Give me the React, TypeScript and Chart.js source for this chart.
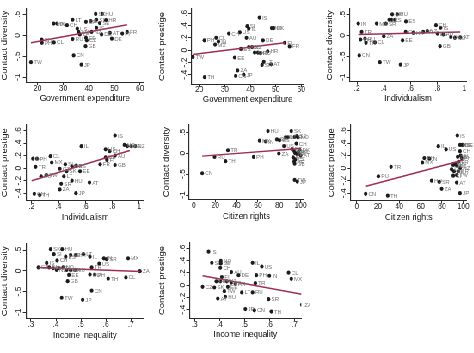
import React, { useEffect, useRef } from "react";
import { Chart, registerables } from "chart.js";
Chart.register(...registerables);

// ---------------- data ----------------
const divTicks = [-1, -0.5, 0, 0.5];
const divTickLabels = ["-1", "-.5", "0", ".5"];
const presTicks = [-0.4, -0.2, 0, 0.2, 0.4, 0.6];
const presTickLabels = ["-.4", "-.2", "0", ".2", ".4", ".6"];
const govTicks = [20, 30, 40, 50, 60];
const govTickLabels = ["20", "30", "40", "50", "60"];
const indTicks = [0.2, 0.4, 0.6, 0.8, 1];
const indTickLabels = [".2", ".4", ".6", ".8", "1"];
const citTicks = [0, 20, 40, 60, 80, 100];
const citTickLabels = ["0", "20", "40", "60", "80", "100"];
const ineqTicks = [0.3, 0.4, 0.5, 0.6, 0.7];
const ineqTickLabels = [".3", ".4", ".5", ".6", ".7"];

// Panel 1: government expenditure vs contact diversity
const p1Labels = ["TW","TH","PH","MX","IN","CL","CH","LT","CN","RU","US","AU","ZA","JP","GB","EE","CZ","SR","IL","SI","SE","HR","IS","NZ","DE","AT","DK","FI","FR","SK","HU"];
const p1X = [17.4,21.6,21.7,26.3,27.6,26.4,31.5,33.7,34.1,33.7,35.5,36.0,36.5,37.1,38.75,38.9,39.2,38.9,40.8,43.0,44.3,46.7,43.0,41.1,45.0,48.3,49.0,53.1,55.0,42.7,45.3];
const p1Y = [-0.64,-0.10,-0.18,0.28,0.28,-0.17,0.24,0.37,-0.48,-0.09,0.16,0.08,0.02,-0.70,-0.26,-0.06,-0.12,0.32,0.34,0.37,0.29,0.36,0.18,0.08,0.02,0.06,-0.08,0.04,0.08,0.51,0.51];
const p1FitX = [17.4, 55.0];
const p1FitY = [-0.18, 0.25];

// Panel 2: government expenditure vs contact prestige
const p2Labels = ["TW","TH","PH","CL","MX","IN","CH","EE","ZA","CN","US","JP","AU","SI","IL","ES","CZ","NZ","SK","HU","IS","RU","DE","SR","LT","HR","AT","NO","DK","FI","FR"];
const p2X = [17.5,22.1,22.0,26.6,26.2,27.5,31.6,33.9,35.0,34.3,35.9,37.4,38.5,38.8,39.4,36.3,39.4,40.7,41.7,43.0,43.6,44.0,45.0,44.6,45.3,46.8,48.1,48.4,49.2,53.5,55.4];
const p2Y = [-0.11,-0.44,0.16,0.20,0.09,0.14,0.27,-0.12,-0.33,-0.42,0.29,-0.40,0.20,0.39,0.35,0.02,0.05,0.05,-0.04,-0.04,0.53,-0.05,0.16,-0.24,-0.19,-0.02,-0.23,0.36,0.36,0.12,0.06];
const p2FitX = [17.5, 53.5];
const p2FitY = [-0.07, 0.12];

// Panel 3: individualism vs contact diversity
const p3Labels = ["IN","CN","PH","TR","RU","TH","CL","MX","TW","ZA","SR","LT","IL","SK","SI","HU","JP","EE","CZ","ES","HR","FR","NZ","CH","DE","IS","GB","AU","DK","NO","AT"];
const p3X = [0.21,0.217,0.227,0.235,0.26,0.267,0.334,0.347,0.371,0.40,0.416,0.44,0.458,0.463,0.483,0.50,0.525,0.54,0.563,0.565,0.62,0.694,0.724,0.789,0.80,0.824,0.819,0.843,0.90,0.93,0.97];
const p3Y = [0.28,-0.48,-0.10,0.08,-0.08,-0.18,-0.17,0.28,-0.64,-0.02,0.28,0.37,0.37,0.50,0.37,0.50,-0.70,-0.12,0.08,0.33,0.06,0.08,0.10,0.24,0.04,0.18,-0.26,0.02,-0.04,-0.06,-0.05];
const p3FitX = [0.21, 0.97];
const p3FitY = [0.02, 0.08];

// Panel 4: individualism vs contact prestige
const p4Labels = ["IN","CN","TR","PH","TH","RU","TW","CL","MX","CZ","ZA","SR","LT","SI","SK","HR","HU","ES","JP","EE","IL","AT","FR","US","DE","FI","CH","AU","GB","IS","NO","DK","SE","NZ"];
const p4X = [0.21,0.22,0.23,0.24,0.26,0.27,0.31,0.34,0.35,0.41,0.41,0.42,0.44,0.45,0.46,0.50,0.50,0.53,0.53,0.56,0.57,0.63,0.71,0.75,0.75,0.76,0.78,0.82,0.82,0.82,0.89,0.91,0.94,0.97];
const p4Y = [0.15,-0.41,0.02,0.15,-0.43,-0.13,-0.11,0.19,0.09,-0.01,-0.34,-0.25,-0.13,0.06,-0.05,0.03,-0.20,0.04,-0.40,-0.05,0.35,-0.23,0.06,0.30,0.17,0.13,0.27,0.20,0.05,0.52,0.37,0.35,0.35,0.35];
const p4FitX = [0.2, 0.93];
const p4FitY = [-0.2, 0.28];

// Panel 5: citizen rights vs contact diversity
const p5Labels = ["CN","RU","TH","TR","PH","MX","IN","HU","SR","ZA","ES","IL","LT","US","SK","SI","SE","NO","CH","DE","AU","NZ","FI","DK","AT","FR","EE","CZ","HR","GB","TW","JP"];
const p5X = [7.8,19.4,29.7,31.9,56,61.6,67.2,69.4,77.8,79.7,80.3,85.9,88.1,84.4,91.3,94.4,96.5,97.5,96,92,94,95,97,99,100,98,93,95,94,94.4,94.4,96.9];
const p5Y = [-0.48,-0.09,-0.19,0.07,-0.09,0.30,0.28,0.53,0.33,-0.01,0.31,0.38,0.38,0.17,0.53,0.39,0.41,0.38,0.23,0.10,0.05,0.0,-0.03,0.08,-0.05,0.02,-0.10,-0.15,-0.20,-0.25,-0.64,-0.68];
const p5FitX = [7.8, 100];
const p5FitY = [-0.07, 0.11];

// Panel 6: citizen rights vs contact prestige
const p6Labels = ["CN","RU","TH","TR","MX","PH","IN","HU","IL","SR","ZA","US","LT","SK","EE","CZ","SI","HR","TW","ES","FR","DE","IS","AT","JP","NZ","CH","AU","FI","NO","DK","SE"];
const p6X = [8.4,20.3,29.1,32.2,61.6,63.4,68.1,70.3,76.6,77.5,79.7,83.8,89,90.6,91.3,93.8,90.6,95.3,93.8,92.5,95.6,94.7,94.4,93.8,96.9,97,96.9,97.5,98.4,96.9,98.8,100];
const p6Y = [-0.41,-0.13,-0.44,0.02,0.09,0.16,0.15,-0.20,0.35,-0.22,-0.33,0.30,-0.02,0.05,-0.05,0.04,-0.12,-0.05,-0.11,0.07,0.10,0.18,0.52,-0.23,-0.40,0.0,0.27,0.20,0.16,0.37,0.37,0.37];
const p6FitX = [8.75, 100];
const p6FitY = [-0.29, 0.13];

// Panel 7: income inequality vs contact diversity
const p7Labels = ["CZ","IS","DK","SK","FI","SI","NZ","CH","AT","TW","HU","NO","EE","ES","GB","DE","SE","FR","AU","HR","JP","LT","IL","RU","TR","CN","PH","US","IN","SR","TH","CL","MX","ZA"];
const p7X = [0.33,0.363,0.373,0.379,0.389,0.392,0.403,0.405,0.413,0.423,0.425,0.429,0.452,0.439,0.447,0.443,0.459,0.459,0.476,0.479,0.507,0.51,0.536,0.536,0.543,0.543,0.555,0.573,0.592,0.603,0.609,0.68,0.689,0.736];
const p7Y = [0.08,0.19,0.08,0.52,0.06,0.40,0.02,0.25,0.06,-0.65,0.52,0.08,-0.10,0.34,-0.25,0.02,0.38,0.01,0.02,0.38,-0.70,0.40,0.34,-0.09,0.08,-0.48,-0.09,0.17,0.30,0.28,-0.19,-0.16,0.30,-0.01];
const p7FitX = [0.33, 0.736];
const p7FitY = [0.08, -0.02];

// Panel 8: income inequality vs contact prestige
const p8Labels = ["CZ","IS","SI","SK","FR","AT","CH","NO","SE","DK","FI","TW","HU","NZ","EE","AU","ES","HR","DE","LT","JP","IL","RU","CN","TR","PH","US","SR","IN","TH","CL","MX","ZA"];
const p8X = [0.332,0.356,0.369,0.379,0.387,0.393,0.403,0.405,0.405,0.403,0.409,0.419,0.423,0.429,0.433,0.447,0.447,0.463,0.476,0.489,0.503,0.532,0.532,0.539,0.543,0.547,0.569,0.596,0.599,0.607,0.676,0.687,0.729];
const p8Y = [-0.03,0.54,0.36,-0.04,0.06,-0.22,0.28,0.39,0.35,0.06,0.13,-0.10,-0.19,0.06,-0.03,0.21,0.04,0.02,0.16,-0.12,-0.39,0.36,-0.12,-0.41,0.03,0.16,0.30,-0.23,0.15,-0.43,0.20,0.10,-0.32];
const p8FitX = [0.332, 0.729];
const p8FitY = [0.15, -0.15];

// ---------------- layout & style ----------------
const FONT = '"Liberation Sans", Arial, Helvetica, sans-serif';
const SX = 0.86; // horizontal squeeze of the whole figure
const TICK_FONT = 8.5;
const TITLE_FONT = 9.5;
const LH_T = TITLE_FONT * 1.2;
const LH_K = TICK_FONT * 1.2;
const TOP_PAD = 8;
const RIGHT_PAD_REF = 8;
const TL_X = 3;
const TL_Y = 3.5;
const AXIS_COLOR = "#2a2a2a";
const POINT_COLOR = "#1c1c1c";
const LINE_COLOR = "#9e2f4e";
const LABEL_COLOR = "#747474";

type Layout = {
  axL: number; axR: number; axT: number; axB: number;
  xMap: number[]; yMap: number[];
  titleX: number; tickX: number; xTickY: number; xTitleY: number;
};

const L1: Layout = { axL: 26, axR: 144, axT: 9, axB: 82, xMap: [20, 37.7, 60, 140], yMap: [0.5, 14.3, -1, 77.3], titleX: 5, tickX: 18, xTickY: 89, xTitleY: 98.5 };
const L2: Layout = { axL: 191, axR: 304, axT: 9, axB: 84, xMap: [20, 199, 60, 301], yMap: [0.6, 13.3, -0.4, 74.7], titleX: 162, tickX: 185, xTickY: 90, xTitleY: 99.5 };
const L3: Layout = { axL: 349.3, axR: 466.7, axT: 9, axB: 81.7, xMap: [0.2, 357, 1, 464.3], yMap: [0.5, 14.3, -1, 77.3], titleX: 330, tickX: 343, xTickY: 89, xTitleY: 98.5 };
const L4: Layout = { axL: 26.7, axR: 144, axT: 124.5, axB: 200, xMap: [0.2, 31.7, 1, 139.3], yMap: [0.6, 130, -0.4, 192.7], titleX: 5, tickX: 18.3, xTickY: 206, xTitleY: 216.5 };
const L5: Layout = { axL: 189.3, axR: 304.3, axT: 125, axB: 199.3, xMap: [0, 194.3, 100, 301], yMap: [0.5, 132.3, -1, 195], titleX: 167, tickX: 183.3, xTickY: 206, xTitleY: 216.5 };
const L6: Layout = { axL: 350.7, axR: 466.7, axT: 124.5, axB: 200, xMap: [0, 356.7, 100, 463.3], yMap: [0.6, 130, -0.4, 192.7], titleX: 331.7, tickX: 343.3, xTickY: 206, xTitleY: 216.5 };
const L7: Layout = { axL: 26, axR: 144, axT: 244, axB: 318.3, xMap: [0.3, 31, 0.7, 131], yMap: [0.5, 250, -1, 312.3], titleX: 5, tickX: 18.3, xTickY: 324.5, xTitleY: 335 };
const L8: Layout = { axL: 189, axR: 301, axT: 243.3, axB: 318.3, xMap: [0.3, 194.3, 0.7, 294.3], yMap: [0.6, 248.3, -0.4, 310], titleX: 162, tickX: 184.3, xTickY: 324.5, xTitleY: 335 };

function geom(L: Layout) {
  const cl = L.titleX - (LH_T / 2) * SX;
  const ct = L.axT - TOP_PAD;
  const w = Math.round((L.axR + RIGHT_PAD_REF - cl) / SX);
  const h = Math.round(L.xTitleY + LH_T / 2 - ct);
  const yW = (L.axL - cl) / SX;
  const padR = w - (L.axR - cl) / SX;
  const xH = h - (L.axB - ct);
  const kx = (L.xMap[2] - L.xMap[0]) / (L.xMap[3] - L.xMap[1]);
  const xMin = L.xMap[0] + (L.axL - L.xMap[1]) * kx;
  const xMax = L.xMap[0] + (L.axR - L.xMap[1]) * kx;
  const ky = (L.yMap[2] - L.yMap[0]) / (L.yMap[3] - L.yMap[1]);
  const yMin = L.yMap[0] + (L.axB - L.yMap[1]) * ky;
  const yMax = L.yMap[0] + (L.axT - L.yMap[1]) * ky;
  const xPad = L.xTickY - L.axB - TL_X - LH_K / 2;
  const yPad = Math.max(-1, (L.axL - L.tickX) / SX - TL_Y - 5);
  return { left: cl / SX, top: ct, w, h, yW, padR, xH, xMin, xMax, yMin, yMax, xPad, yPad };
}

type PanelProps = {
  layout: Layout;
  xs: number[]; ys: number[]; labels: string[];
  fitX: number[]; fitY: number[];
  xTicks: number[]; xTickLabels: string[];
  yTicks: number[]; yTickLabels: string[];
  xTitle: string; yTitle: string;
};

function Panel(p: PanelProps) {
  const ref = useRef<HTMLCanvasElement>(null);
  const g = geom(p.layout);
  useEffect(() => {
    if (!ref.current) return;
    const labels = p.labels;
    const labelPlugin = {
      id: "countryLabels",
      afterDatasetsDraw(chart: any) {
        const meta = chart.getDatasetMeta(0);
        const ctx = chart.ctx;
        ctx.save();
        ctx.font = `6.2px ${FONT}`;
        ctx.fillStyle = LABEL_COLOR;
        ctx.textBaseline = "middle";
        ctx.textAlign = "left";
        meta.data.forEach((pt: any, i: number) => {
          ctx.fillText(labels[i] ?? "", pt.x + 3.2, pt.y + 0.3);
        });
        ctx.restore();
      },
    };
    const gridCommon = {
      display: true,
      drawOnChartArea: false,
      drawTicks: true,
      color: AXIS_COLOR,
      lineWidth: 1,
    };
    const chart = new Chart(ref.current, {
      type: "scatter",
      data: {
        datasets: [
          {
            data: p.xs.map((x, i) => ({ x, y: p.ys[i] })),
            pointRadius: 2.1,
            pointBackgroundColor: POINT_COLOR,
            pointBorderWidth: 0,
            order: 1,
          },
          {
            data: p.fitX.map((x, i) => ({ x, y: p.fitY[i] })),
            showLine: true,
            borderColor: LINE_COLOR,
            borderWidth: 1.5,
            pointRadius: 0,
            order: 0,
          },
        ],
      },
      options: {
        responsive: false,
        animation: false,
        devicePixelRatio: 1,
        events: [],
        layout: { padding: { left: 0, top: TOP_PAD, right: g.padR, bottom: 0 } },
        plugins: { legend: { display: false }, tooltip: { enabled: false } },
        scales: {
          x: {
            type: "linear",
            min: g.xMin,
            max: g.xMax,
            afterBuildTicks: (s: any) => {
              s.ticks = p.xTicks.map((v) => ({ value: v }));
            },
            afterFit: (s: any) => {
              s.height = g.xH;
            },
            ticks: {
              autoSkip: false,
              maxRotation: 0,
              minRotation: 0,
              padding: g.xPad,
              color: "#1a1a1a",
              font: { family: FONT, size: TICK_FONT },
              callback: (_v: any, i: number) => p.xTickLabels[i],
            },
            grid: { ...gridCommon, tickLength: TL_X },
            border: { display: true, color: AXIS_COLOR, width: 1 },
            title: {
              display: true,
              text: p.xTitle,
              color: "#111",
              padding: 0,
              font: { family: FONT, size: TITLE_FONT },
            },
          },
          y: {
            type: "linear",
            min: g.yMin,
            max: g.yMax,
            afterBuildTicks: (s: any) => {
              s.ticks = p.yTicks.map((v) => ({ value: v }));
            },
            afterFit: (s: any) => {
              s.width = g.yW;
            },
            ticks: {
              autoSkip: false,
              minRotation: 90,
              maxRotation: 90,
              crossAlign: "center",
              padding: g.yPad,
              color: "#1a1a1a",
              font: { family: FONT, size: TICK_FONT },
              callback: (_v: any, i: number) => p.yTickLabels[i],
            },
            grid: { ...gridCommon, tickLength: TL_Y },
            border: { display: true, color: AXIS_COLOR, width: 1.15 },
            title: {
              display: true,
              text: p.yTitle,
              color: "#111",
              padding: 0,
              font: { family: FONT, size: TITLE_FONT },
            },
          },
        },
      } as any,
      plugins: [labelPlugin],
    });
    return () => chart.destroy();
  }, []);
  return (
    <canvas
      ref={ref}
      width={g.w}
      height={g.h}
      style={{ position: "absolute", left: g.left, top: g.top, width: g.w, height: g.h, display: "block" }}
    />
  );
}

export default function App() {
  return (
    <div style={{ position: "absolute", left: 0, top: 0, width: 474, height: 353, overflow: "hidden", background: "#fff" }}>
      <div
        style={{
          position: "absolute",
          left: 0,
          top: 0,
          width: 474 / SX,
          height: 353,
          transform: `scaleX(${SX})`,
          transformOrigin: "0 0",
        }}
      >
        <Panel layout={L1} xs={p1X} ys={p1Y} labels={p1Labels} fitX={p1FitX} fitY={p1FitY}
          xTicks={govTicks} xTickLabels={govTickLabels} yTicks={divTicks} yTickLabels={divTickLabels}
          xTitle="Government expenditure" yTitle="Contact diversity" />
        <Panel layout={L2} xs={p2X} ys={p2Y} labels={p2Labels} fitX={p2FitX} fitY={p2FitY}
          xTicks={govTicks} xTickLabels={govTickLabels} yTicks={presTicks} yTickLabels={presTickLabels}
          xTitle="Government expenditure" yTitle="Contact prestige" />
        <Panel layout={L3} xs={p3X} ys={p3Y} labels={p3Labels} fitX={p3FitX} fitY={p3FitY}
          xTicks={indTicks} xTickLabels={indTickLabels} yTicks={divTicks} yTickLabels={divTickLabels}
          xTitle="Individualism" yTitle="Contact diversity" />
        <Panel layout={L4} xs={p4X} ys={p4Y} labels={p4Labels} fitX={p4FitX} fitY={p4FitY}
          xTicks={indTicks} xTickLabels={indTickLabels} yTicks={presTicks} yTickLabels={presTickLabels}
          xTitle="Individualism" yTitle="Contact prestige" />
        <Panel layout={L5} xs={p5X} ys={p5Y} labels={p5Labels} fitX={p5FitX} fitY={p5FitY}
          xTicks={citTicks} xTickLabels={citTickLabels} yTicks={divTicks} yTickLabels={divTickLabels}
          xTitle="Citizen rights" yTitle="Contact diversity" />
        <Panel layout={L6} xs={p6X} ys={p6Y} labels={p6Labels} fitX={p6FitX} fitY={p6FitY}
          xTicks={citTicks} xTickLabels={citTickLabels} yTicks={presTicks} yTickLabels={presTickLabels}
          xTitle="Citizen rights" yTitle="Contact prestige" />
        <Panel layout={L7} xs={p7X} ys={p7Y} labels={p7Labels} fitX={p7FitX} fitY={p7FitY}
          xTicks={ineqTicks} xTickLabels={ineqTickLabels} yTicks={divTicks} yTickLabels={divTickLabels}
          xTitle="Income inequality" yTitle="Contact diversity" />
        <Panel layout={L8} xs={p8X} ys={p8Y} labels={p8Labels} fitX={p8FitX} fitY={p8FitY}
          xTicks={ineqTicks} xTickLabels={ineqTickLabels} yTicks={presTicks} yTickLabels={presTickLabels}
          xTitle="Income inequality" yTitle="Contact prestige" />
      </div>
    </div>
  );
}
